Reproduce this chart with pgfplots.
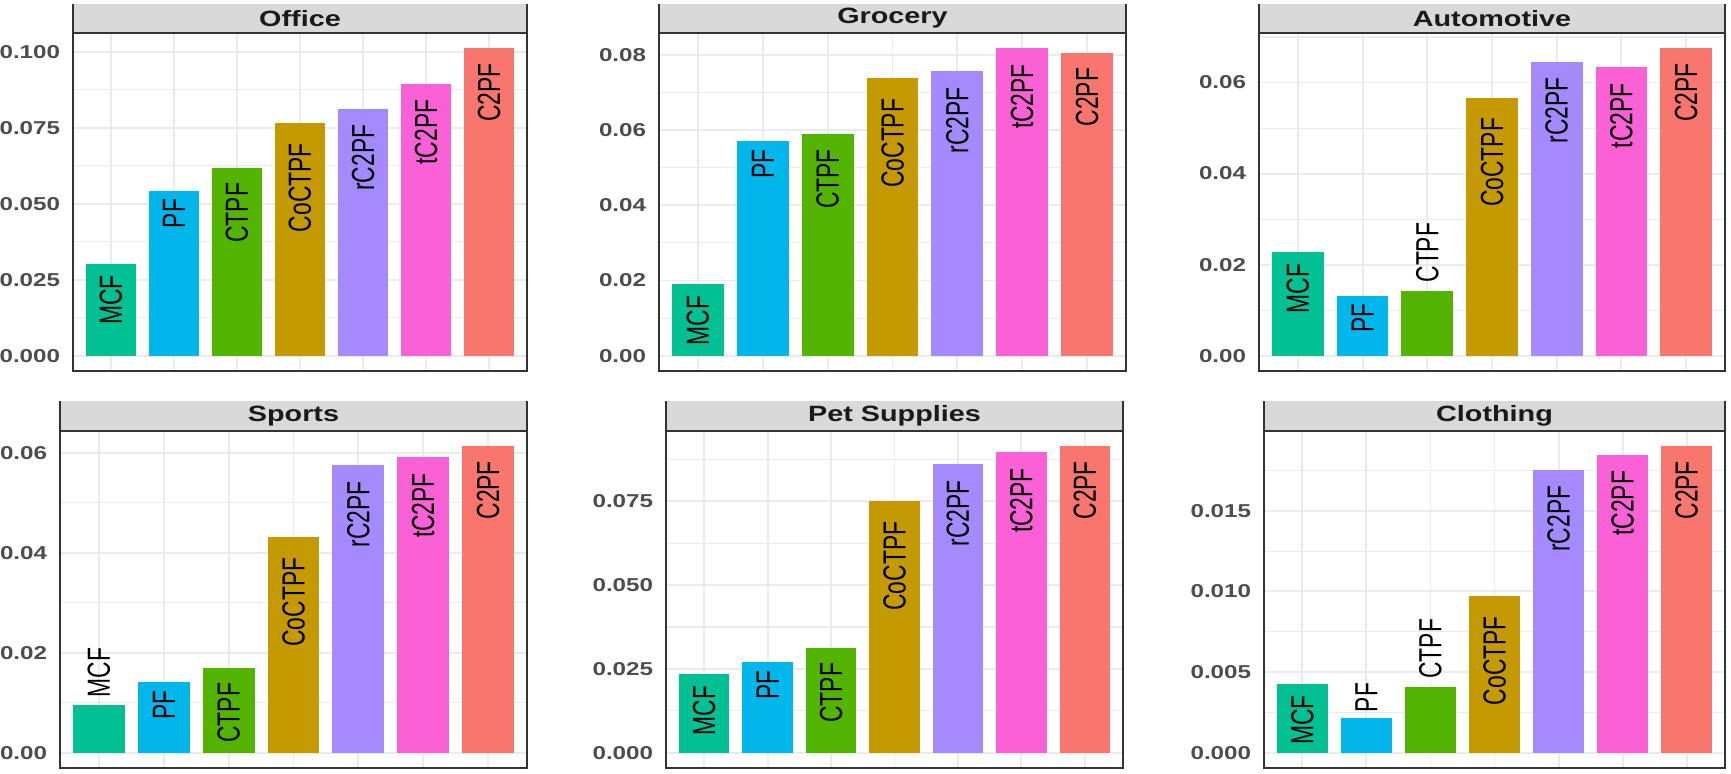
\documentclass[border=0pt]{standalone}
\usepackage{fontspec}
\setmainfont{Liberation Sans}
\usepackage{pgfplots}
\pgfplotsset{compat=1.18}
\definecolor{cMCF}{HTML}{00C094}
\definecolor{cPF}{HTML}{00B6EB}
\definecolor{cCTPF}{HTML}{53B400}
\definecolor{cCoCTPF}{HTML}{C49A00}
\definecolor{crC}{HTML}{A58AFF}
\definecolor{ctC}{HTML}{FB61D7}
\definecolor{cC}{HTML}{F8766D}
\definecolor{gridc}{HTML}{EBEBEB}
\definecolor{framec}{HTML}{333333}
\definecolor{stripc}{HTML}{D9D9D9}
\definecolor{tickc}{HTML}{4D4D4D}
\definecolor{titlec}{HTML}{1A1A1A}

\pgfplotsset{
  facet/.style={
    scale only axis, anchor=south west, clip=false,
    xmin=0.4, xmax=7.6, xtick={1,2,3,4,5,6,7}, xticklabels={},
    xmajorgrids, ymajorgrids, yminorgrids,
    major tick length=0pt, minor tick length=0pt,
    major grid style={draw=gridc, line width=0.55pt},
    minor grid style={draw=gridc, line width=0.3pt},
    axis line style={draw=framec, line width=0.45pt},
    ybar, bar width=0.8, bar shift=0pt,
    /pgf/number format/assume math mode=true,
    /pgf/number format/fixed, /pgf/number format/fixed zerofill,
    scaled y ticks=false,
    yticklabel style={font=\fontsize{5.3}{6}\selectfont\bfseries, text=tickc, inner sep=0pt, xshift=-3.4pt, xscale=1.3, anchor=east},
  },
  lin/.style 2 args={bar shift=0pt, draw=none, nodes near coords={#1}, every node near coord/.append style={anchor=east, yshift=-#2, xscale=1.4, rotate=90}},
  lout/.style 2 args={bar shift=0pt, draw=none, nodes near coords={#1}, every node near coord/.append style={anchor=west, yshift=#2, xscale=1.4, rotate=90}},
  every node near coord/.append style={font=\fontsize{6.5}{7}\selectfont, text=black, inner sep=0pt},
}
\newcommand\strip[2]{%
  \fill[stripc] (rel axis cs:0,1) rectangle ([yshift=#1]rel axis cs:1,1);
  \draw[framec, line width=0.45pt] ([yshift=#1]rel axis cs:0,1) -- (rel axis cs:0,1) -- (rel axis cs:1,1) -- ([yshift=#1]rel axis cs:1,1);
  \node[font=\fontsize{6.3}{7}\selectfont\bfseries, text=titlec, xscale=1.3, inner sep=0pt] at ([yshift=#1/2]rel axis cs:0.5,1) {#2};
}

\begin{document}
\begin{tikzpicture}
\path[use as bounding box] (0,0) rectangle (173.1mm,77.3mm);

% ---------------- Office
\begin{axis}[facet, at={(7.3mm,40.2mm)}, width=45.4mm, height=33.8mm,
  ymin=-0.005055, ymax=0.106155, ytick={0,0.025,0.05,0.075,0.1},
  minor ytick={0.0125,0.0375,0.0625,0.0875}, /pgf/number format/precision=3]
\addplot[fill=cMCF, lin={MCF}{3.1pt}] coordinates {(1,0.0302)};
\addplot[fill=cPF, lin={PF}{2.1pt}] coordinates {(2,0.0542)};
\addplot[fill=cCTPF, lin={CTPF}{4.0pt}] coordinates {(3,0.0617)};
\addplot[fill=cCoCTPF, lin={CoCTPF}{5.6pt}] coordinates {(4,0.0766)};
\addplot[fill=crC, lin={rC2PF}{4.3pt}] coordinates {(5,0.0812)};
\addplot[fill=ctC, lin={tC2PF}{4.3pt}] coordinates {(6,0.0894)};
\addplot[fill=cC, lin={C2PF}{4.0pt}] coordinates {(7,0.1011)};
\strip{2.9mm}{Office}
\end{axis}

% ---------------- Grocery
\begin{axis}[facet, at={(65.9mm,40.2mm)}, width=46.7mm, height=33.8mm,
  ymin=-0.00409, ymax=0.08589, ytick={0,0.02,0.04,0.06,0.08},
  minor ytick={0.01,0.03,0.05,0.07}, /pgf/number format/precision=2]
\addplot[fill=cMCF, lin={MCF}{3.1pt}] coordinates {(1,0.0190)};
\addplot[fill=cPF, lin={PF}{2.1pt}] coordinates {(2,0.0571)};
\addplot[fill=cCTPF, lin={CTPF}{4.0pt}] coordinates {(3,0.0589)};
\addplot[fill=cCoCTPF, lin={CoCTPF}{5.6pt}] coordinates {(4,0.0738)};
\addplot[fill=crC, lin={rC2PF}{4.3pt}] coordinates {(5,0.0757)};
\addplot[fill=ctC, lin={tC2PF}{4.3pt}] coordinates {(6,0.0818)};
\addplot[fill=cC, lin={C2PF}{4.0pt}] coordinates {(7,0.0805)};
\strip{2.9mm}{Grocery}
\end{axis}

% ---------------- Automotive
\begin{axis}[facet, at={(125.9mm,40.2mm)}, width=46.6mm, height=33.8mm,
  ymin=-0.003375, ymax=0.070875, ytick={0,0.02,0.04,0.06},
  minor ytick={0.01,0.03,0.05,0.07}, /pgf/number format/precision=2]
\addplot[fill=cMCF, lin={MCF}{3.1pt}] coordinates {(1,0.0227)};
\addplot[fill=cPF, lin={PF}{2.0pt}] coordinates {(2,0.0132)};
\addplot[fill=cCTPF, lout={CTPF}{2.1pt}] coordinates {(3,0.0143)};
\addplot[fill=cCoCTPF, lin={CoCTPF}{5.6pt}] coordinates {(4,0.0567)};
\addplot[fill=crC, lin={rC2PF}{4.3pt}] coordinates {(5,0.0646)};
\addplot[fill=ctC, lin={tC2PF}{4.3pt}] coordinates {(6,0.0633)};
\addplot[fill=cC, lin={C2PF}{4.0pt}] coordinates {(7,0.0675)};
\strip{2.9mm}{Automotive}
\end{axis}

% ---------------- Sports
\begin{axis}[facet, at={(6.0mm,0.5mm)}, width=46.7mm, height=33.7mm,
  ymin=-0.003065, ymax=0.064365, ytick={0,0.02,0.04,0.06},
  minor ytick={0.01,0.03,0.05}, /pgf/number format/precision=2]
\addplot[fill=cMCF, lout={MCF}{2.1pt}] coordinates {(1,0.0095)};
\addplot[fill=cPF, lin={PF}{2.1pt}] coordinates {(2,0.0141)};
\addplot[fill=cCTPF, lin={CTPF}{4.0pt}] coordinates {(3,0.0169)};
\addplot[fill=cCoCTPF, lin={CoCTPF}{5.6pt}] coordinates {(4,0.0431)};
\addplot[fill=crC, lin={rC2PF}{4.3pt}] coordinates {(5,0.0575)};
\addplot[fill=ctC, lin={tC2PF}{4.3pt}] coordinates {(6,0.0591)};
\addplot[fill=cC, lin={C2PF}{4.0pt}] coordinates {(7,0.0613)};
\strip{3.0mm}{Sports}
\end{axis}

% ---------------- Pet Supplies
\begin{axis}[facet, at={(66.6mm,0.5mm)}, width=45.7mm, height=33.7mm,
  ymin=-0.00457, ymax=0.09597, ytick={0,0.025,0.05,0.075},
  minor ytick={0.0125,0.0375,0.0625,0.0875}, /pgf/number format/precision=3]
\addplot[fill=cMCF, lin={MCF}{3.1pt}] coordinates {(1,0.0234)};
\addplot[fill=cPF, lin={PF}{2.1pt}] coordinates {(2,0.0270)};
\addplot[fill=cCTPF, lin={CTPF}{4.0pt}] coordinates {(3,0.0312)};
\addplot[fill=cCoCTPF, lin={CoCTPF}{5.6pt}] coordinates {(4,0.0750)};
\addplot[fill=crC, lin={rC2PF}{4.3pt}] coordinates {(5,0.0860)};
\addplot[fill=ctC, lin={tC2PF}{4.3pt}] coordinates {(6,0.0896)};
\addplot[fill=cC, lin={C2PF}{4.0pt}] coordinates {(7,0.0914)};
\strip{3.0mm}{Pet Supplies}
\end{axis}

% ---------------- Clothing
\begin{axis}[facet, at={(126.4mm,0.5mm)}, width=46.1mm, height=33.7mm,
  ymin=-0.00095, ymax=0.01995, ytick={0,0.005,0.01,0.015},
  minor ytick={0.0025,0.0075,0.0125,0.0175}, /pgf/number format/precision=3]
\addplot[fill=cMCF, lin={MCF}{3.1pt}] coordinates {(1,0.00427)};
\addplot[fill=cPF, lout={PF}{1.4pt}] coordinates {(2,0.00217)};
\addplot[fill=cCTPF, lout={CTPF}{2.1pt}] coordinates {(3,0.00409)};
\addplot[fill=cCoCTPF, lin={CoCTPF}{5.6pt}] coordinates {(4,0.00972)};
\addplot[fill=crC, lin={rC2PF}{4.3pt}] coordinates {(5,0.01754)};
\addplot[fill=ctC, lin={tC2PF}{4.3pt}] coordinates {(6,0.01845)};
\addplot[fill=cC, lin={C2PF}{4.0pt}] coordinates {(7,0.01900)};
\strip{3.0mm}{Clothing}
\end{axis}
\end{tikzpicture}
\end{document}
